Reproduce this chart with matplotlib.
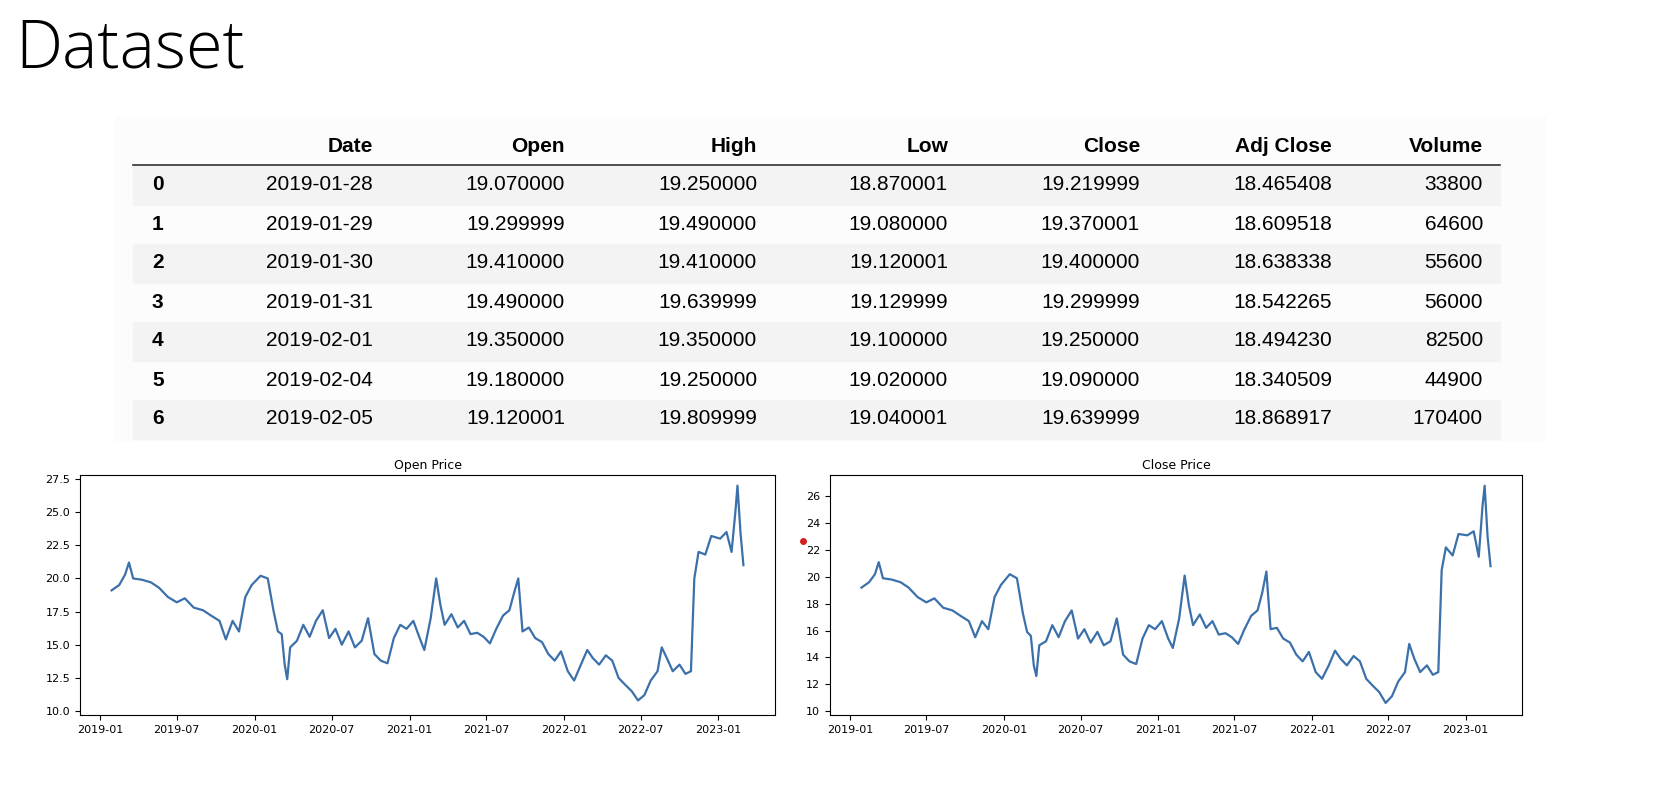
import numpy as np
import pandas as pd
import matplotlib.pyplot as plt
import matplotlib.dates as mdates

# table data
columns = ["Date", "Open", "High", "Low", "Close", "Adj Close", "Volume"]
rows = [
    ["2019-01-28", "19.070000", "19.250000", "18.870001", "19.219999", "18.465408", "33800"],
    ["2019-01-29", "19.299999", "19.490000", "19.080000", "19.370001", "18.609518", "64600"],
    ["2019-01-30", "19.410000", "19.410000", "19.120001", "19.400000", "18.638338", "55600"],
    ["2019-01-31", "19.490000", "19.639999", "19.129999", "19.299999", "18.542265", "56000"],
    ["2019-02-01", "19.350000", "19.350000", "19.100000", "19.250000", "18.494230", "82500"],
    ["2019-02-04", "19.180000", "19.250000", "19.020000", "19.090000", "18.340509", "44900"],
    ["2019-02-05", "19.120001", "19.809999", "19.040001", "19.639999", "18.868917", "170400"],
]

# price series
dates = pd.to_datetime([
    "2019-01-28", "2019-02-15", "2019-03-01", "2019-03-10", "2019-03-20", "2019-04-10", "2019-05-01",
    "2019-05-20", "2019-06-10", "2019-07-01", "2019-07-20", "2019-08-10", "2019-09-01", "2019-09-20",
    "2019-10-10", "2019-10-25", "2019-11-10", "2019-11-25", "2019-12-10", "2019-12-25", "2020-01-15",
    "2020-02-01", "2020-02-15", "2020-02-25", "2020-03-05", "2020-03-12", "2020-03-18", "2020-03-25",
    "2020-04-10", "2020-04-25", "2020-05-10", "2020-05-25", "2020-06-10", "2020-06-25", "2020-07-10",
    "2020-07-25", "2020-08-10", "2020-08-25", "2020-09-10", "2020-09-25", "2020-10-10", "2020-10-25",
    "2020-11-10", "2020-11-25", "2020-12-10", "2020-12-25", "2021-01-10", "2021-01-25", "2021-02-05",
    "2021-02-20", "2021-03-05", "2021-03-15", "2021-03-25", "2021-04-10", "2021-04-25", "2021-05-10",
    "2021-05-25", "2021-06-10", "2021-06-25", "2021-07-10", "2021-07-25", "2021-08-10", "2021-08-25",
    "2021-09-05", "2021-09-15", "2021-09-25", "2021-10-10", "2021-10-25", "2021-11-10", "2021-11-25",
    "2021-12-10", "2021-12-25", "2022-01-10", "2022-01-25", "2022-02-10", "2022-02-25", "2022-03-10",
    "2022-03-25", "2022-04-10", "2022-04-25", "2022-05-10", "2022-05-25", "2022-06-10", "2022-06-25",
    "2022-07-10", "2022-07-25", "2022-08-10", "2022-08-20", "2022-09-01", "2022-09-15", "2022-10-01",
    "2022-10-15", "2022-10-28", "2022-11-05", "2022-11-15", "2022-12-01", "2022-12-15", "2023-01-05",
    "2023-01-20", "2023-02-01", "2023-02-10", "2023-02-15", "2023-02-22", "2023-03-01",
])
open_price = [
    19.1, 19.5, 20.3, 21.2, 20.0, 19.9, 19.7, 19.3, 18.6, 18.2, 18.5, 17.8, 17.6, 17.2,
    16.8, 15.4, 16.8, 16.0, 18.6, 19.5, 20.2, 20.0, 17.5, 16.0, 15.8, 13.5, 12.4, 14.8,
    15.3, 16.5, 15.6, 16.8, 17.6, 15.5, 16.2, 15.0, 16.0, 14.8, 15.3, 17.0, 14.3, 13.8,
    13.6, 15.5, 16.5, 16.2, 16.8, 15.5, 14.6, 17.0, 20.0, 18.0, 16.5, 17.3, 16.3, 16.8,
    15.8, 15.9, 15.6, 15.1, 16.2, 17.2, 17.6, 18.9, 20.0, 16.0, 16.3, 15.5, 15.2, 14.3,
    13.8, 14.5, 13.0, 12.3, 13.5, 14.6, 14.0, 13.5, 14.2, 13.8, 12.5, 12.0, 11.5, 10.8,
    11.2, 12.3, 13.0, 14.8, 14.0, 13.0, 13.5, 12.8, 13.0, 20.0, 22.0, 21.8, 23.2, 23.0,
    23.5, 22.0, 25.0, 27.0, 23.5, 21.0,
]
close_price = [
    19.2, 19.6, 20.2, 21.1, 19.9, 19.8, 19.6, 19.2, 18.5, 18.1, 18.4, 17.7, 17.5, 17.1,
    16.7, 15.5, 16.7, 16.1, 18.5, 19.4, 20.2, 19.9, 17.3, 15.9, 15.6, 13.4, 12.6, 14.9,
    15.2, 16.4, 15.5, 16.7, 17.5, 15.4, 16.1, 15.1, 15.9, 14.9, 15.2, 16.9, 14.2, 13.7,
    13.5, 15.4, 16.4, 16.1, 16.7, 15.4, 14.7, 16.9, 20.1, 17.9, 16.4, 17.2, 16.2, 16.7,
    15.7, 15.8, 15.5, 15.0, 16.1, 17.1, 17.5, 18.8, 20.4, 16.1, 16.2, 15.4, 15.1, 14.2,
    13.7, 14.4, 12.9, 12.4, 13.4, 14.5, 13.9, 13.4, 14.1, 13.7, 12.4, 11.9, 11.4, 10.6,
    11.1, 12.2, 12.9, 15.0, 13.9, 12.9, 13.4, 12.7, 12.9, 20.5, 22.2, 21.6, 23.2, 23.1,
    23.4, 21.5, 25.3, 26.8, 23.0, 20.8,
]

W, H = 1675, 798
fig = plt.figure(figsize=(W / 100, H / 100), dpi=100)

# overlay axes in pixel coordinates for the slide title and table
bg = fig.add_axes([0, 0, 1, 1])
bg.set_xlim(0, W)
bg.set_ylim(H, 0)
bg.axis("off")

bg.text(15, 50, "Dataset", fontsize=48, family="Open Sans", fontweight="light",
        va="center", ha="left")

bg.add_patch(plt.Rectangle((115, 117), 1430, 323, color="#fcfcfc", zorder=0))
col_right = [373, 565, 757, 948, 1140, 1332, 1483]
row_y0, row_h = 185, 39
for c, xr in zip(columns, col_right):
    bg.text(xr, 146, c, ha="right", va="center", fontsize=15, fontweight="bold",
            family="Liberation Sans")
bg.plot([133, 1500], [165, 165], color="#333333", lw=1.2)
for i, r in enumerate(rows):
    y = row_y0 + i * row_h
    if i % 2 == 0:
        bg.add_patch(plt.Rectangle((133, y - row_h / 2), 1367, row_h, color="#f3f3f3", zorder=0))
    bg.text(152, y, str(i), ha="left", va="center", fontsize=15, fontweight="bold",
            family="Liberation Sans")
    for v, xr in zip(r, col_right):
        bg.text(xr, y, v, ha="right", va="center", fontsize=15, family="Liberation Sans")

# stray red dot on the slide
bg.plot([803], [541], "o", color="#d62020", ms=4)

line_color = "#3b70aa"
charts = [
    ([80 / W, 1 - 715 / H, 695 / W, 240 / H], open_price, "Open Price", np.arange(10, 28, 2.5), 27.8),
    ([830 / W, 1 - 715 / H, 692 / W, 240 / H], close_price, "Close Price", np.arange(10, 27, 2), 27.6),
]
for rect, vals, title, yt, ytop in charts:
    ax = fig.add_axes(rect)
    ax.plot(dates, vals, color=line_color, lw=1.6)
    ax.set_title(title, fontsize=9, pad=4)
    ax.set_yticks(yt)
    ax.set_ylim(9.7, ytop)
    ax.xaxis.set_major_locator(mdates.MonthLocator(bymonth=[1, 7]))
    ax.xaxis.set_major_formatter(mdates.DateFormatter("%Y-%m"))
    ax.tick_params(labelsize=8)

fig.savefig("out.png", dpi=100)
